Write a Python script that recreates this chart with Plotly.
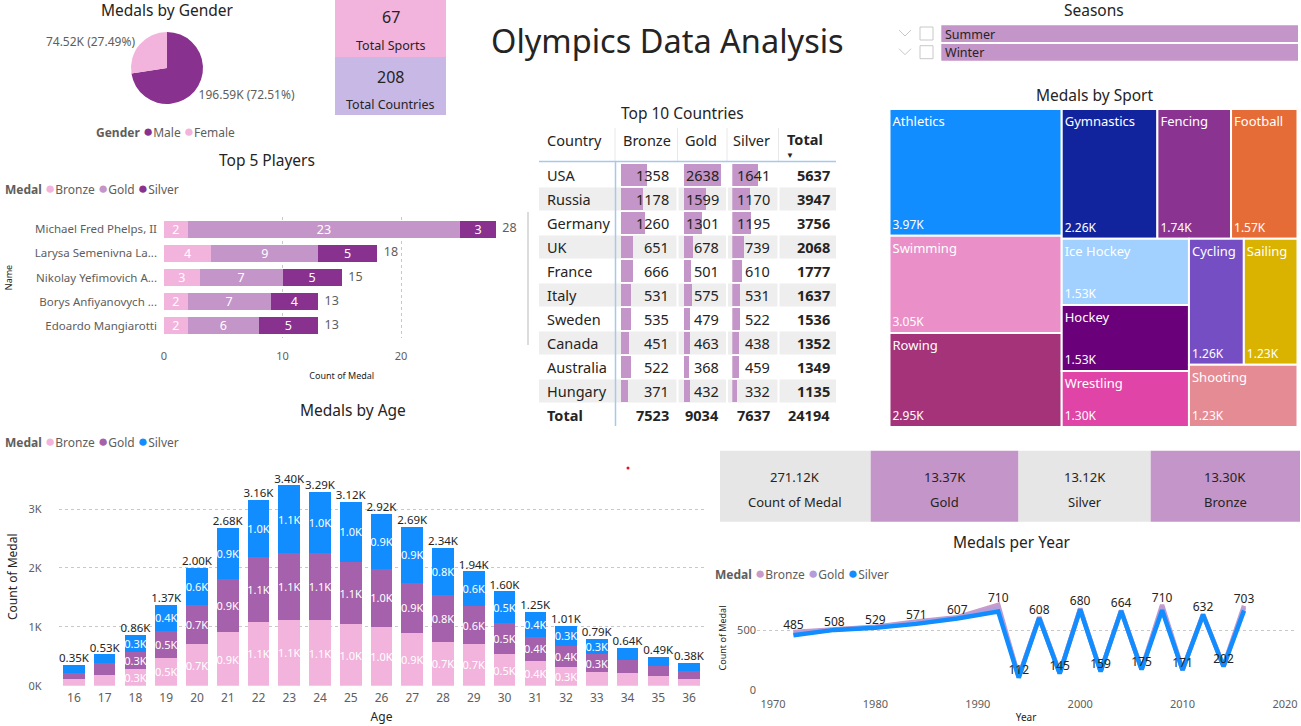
import plotly.graph_objects as go

W, H = 1301, 726


def fx(p):
    return p / W


def fy(p):
    return 1 - p / H


FONT = "Noto Sans"
DARK = "#252423"
GRAY = "#605E5C"
PINK = "#F2B3DC"
LILAC = "#C495C8"
PLUM = "#88318F"
BLUE = "#118DFF"
AGE_GOLD = "#A561AB"
LAV = "#C8B8E6"
YR_BRONZE = "#C89BCB"
YR_GOLD = "#B39DDB"

# ---------------- data ----------------
gender_labels = ["Male", "Female"]
gender_values = [196590, 74520]

total_sports = 67
total_countries = 208

player_names = ["Michael Fred Phelps, II", "Larysa Semenivna La...", "Nikolay Yefimovich A...",
                "Borys Anfiyanovych ...", "Edoardo Mangiarotti"]
player_bronze = [2, 4, 3, 2, 2]
player_gold = [23, 9, 7, 7, 6]
player_silver = [3, 5, 5, 4, 5]

countries = ["USA", "Russia", "Germany", "UK", "France", "Italy", "Sweden", "Canada", "Australia", "Hungary"]
country_bronze = [1358, 1178, 1260, 651, 666, 531, 535, 451, 522, 371]
country_gold = [2638, 1599, 1301, 678, 501, 575, 479, 463, 368, 432]
country_silver = [1641, 1170, 1195, 739, 610, 531, 522, 438, 459, 332]

sports = ["Athletics", "Swimming", "Rowing", "Gymnastics", "Fencing", "Football",
          "Ice Hockey", "Hockey", "Wrestling", "Cycling", "Sailing", "Shooting"]
sport_values = [3970, 3050, 2950, 2260, 1740, 1570, 1533, 1528, 1300, 1260, 1232, 1228]
sport_colors = ["#118DFF", "#EA8FC8", "#A43379", "#12239E", "#8A3391", "#E66C37",
                "#A2D1FF", "#6B007B", "#E044A7", "#744EC2", "#D9B300", "#E48B94"]

ages = ["16", "17", "18", "19", "20", "21", "22", "23", "24", "25", "26",
        "27", "28", "29", "30", "31", "32", "33", "34", "35", "36"]
age_bronze = [115, 175, 290, 475, 700, 905, 1080, 1120, 1110, 1040, 1000,
              890, 740, 710, 530, 425, 320, 240, 220, 160, 115]
age_gold = [105, 205, 280, 455, 665, 915, 1100, 1140, 1140, 1060, 980,
            860, 800, 640, 530, 405, 360, 290, 220, 170, 135]
age_silver = [130, 150, 290, 440, 635, 860, 980, 1140, 1040, 1020, 940,
              940, 800, 590, 540, 420, 330, 260, 200, 160, 130]

years = [1972, 1976, 1980, 1984, 1988, 1992, 1994, 1996, 1998, 2000, 2002,
         2004, 2006, 2008, 2010, 2012, 2014, 2016]
year_bronze = [485, 508, 529, 571, 607, 710, 112, 608, 145, 680, 159, 664, 175, 710, 171, 632, 202, 703]
year_gold = [470, 505, 524, 560, 602, 685, 110, 604, 143, 676, 158, 662, 174, 690, 170, 630, 200, 685]
year_silver = [458, 502, 520, 552, 596, 655, 105, 600, 140, 672, 156, 660, 172, 665, 168, 628, 198, 662]
year_ticks = [1970, 1980, 1990, 2000, 2010, 2020]

kpi_labels = ["Count of Medal", "Gold", "Silver", "Bronze"]
kpi_values = [271120, 13370, 13120, 13300]

seasons = ["Summer", "Winter"]


def kfmt(v, d=2):
    return f"{v / 1000:.{d}f}K"


fig = go.Figure()

# ---------------- pie ----------------
gtot = sum(gender_values)
gtext = [f"{kfmt(v)} ({v / gtot * 100:.2f}%)" for v in gender_values]
fig.add_trace(go.Pie(
    labels=gender_labels, values=gender_values, text=gtext, textinfo="text",
    textposition="outside", sort=False, direction="clockwise", rotation=0,
    marker=dict(colors=[PLUM, PINK], line=dict(color="white", width=0)),
    textfont=dict(family=FONT, size=12, color=GRAY),
    domain=dict(x=[fx(131), fx(203)], y=[fy(104), fy(32)]),
    showlegend=False, hoverinfo="label+value+percent",
))

# ---------------- top 5 players ----------------
for name, vals, col in [("Bronze", player_bronze, PINK), ("Gold", player_gold, LILAC),
                        ("Silver", player_silver, PLUM)]:
    fig.add_trace(go.Bar(
        name=name, x=vals, y=player_names, orientation="h", marker=dict(color=col, line=dict(width=0)),
        text=vals, textposition="inside", insidetextanchor="middle", constraintext="none", textangle=0,
        textfont=dict(family=FONT, size=12.5, color="white"), xaxis="x", yaxis="y",
        showlegend=False,
    ))
player_tot = [b + g + s for b, g, s in zip(player_bronze, player_gold, player_silver)]
fig.add_trace(go.Scatter(
    x=player_tot, y=player_names, mode="text", text=[f"  {v}" for v in player_tot],
    textposition="middle right",
    textfont=dict(family=FONT, size=12.5, color=GRAY), xaxis="x", yaxis="y",
    showlegend=False, hoverinfo="skip", cliponaxis=False,
))

# ---------------- medals by age ----------------
for name, vals, col in [("Bronze", age_bronze, PINK), ("Gold", age_gold, AGE_GOLD),
                        ("Silver", age_silver, BLUE)]:
    fig.add_trace(go.Bar(
        name=name, x=ages, y=vals, marker=dict(color=col, line=dict(width=0)),
        text=[kfmt(v, 1) if v >= 250 else "" for v in vals], textposition="inside",
        insidetextanchor="middle", constraintext="none", textangle=0,
        textfont=dict(family=FONT, size=11, color="white"), xaxis="x2", yaxis="y2",
        showlegend=False, cliponaxis=False,
    ))
age_tot = [b + g + s for b, g, s in zip(age_bronze, age_gold, age_silver)]
fig.add_trace(go.Scatter(
    x=ages, y=age_tot, mode="text", text=[kfmt(v) for v in age_tot], textposition="top center",
    textfont=dict(family=FONT, size=11.5, color=DARK), xaxis="x2", yaxis="y2",
    showlegend=False, hoverinfo="skip", cliponaxis=False,
))

# ---------------- medals per year ----------------
for name, vals, col in [("Bronze", year_bronze, YR_BRONZE), ("Gold", year_gold, YR_GOLD),
                        ("Silver", year_silver, BLUE)]:
    fig.add_trace(go.Scatter(
        name=name, x=years, y=vals, mode="lines", line=dict(color=col, width=4.5),
        xaxis="x3", yaxis="y3", showlegend=False, cliponaxis=False,
    ))
fig.add_trace(go.Scatter(
    x=years, y=year_bronze, mode="text", text=[str(v) for v in year_bronze], textposition="top center",
    textfont=dict(family=FONT, size=12, color=DARK), xaxis="x3", yaxis="y3",
    showlegend=False, hoverinfo="skip", cliponaxis=False,
))

# ---------------- top 10 countries table (data bars) ----------------
for vals, xa in [(country_bronze, "x4"), (country_gold, "x5"), (country_silver, "x6")]:
    fig.add_trace(go.Bar(
        x=vals, y=countries, orientation="h", marker=dict(color=LILAC, line=dict(width=0)),
        width=0.92, xaxis=xa, yaxis="y4", showlegend=False, hoverinfo="x+y",
    ))

# ---------------- treemap ----------------
tm_domain = dict(x=[fx(889.5), fx(1297.5)], y=[fy(427), fy(109)])
tiling = dict(packing="squarify", squarifyratio=1.618034, pad=0)
nopad = dict(t=0, l=0, r=0, b=0)
fig.add_trace(go.Treemap(
    labels=sports, parents=[""] * len(sports), values=sport_values,
    marker=dict(colors=sport_colors, line=dict(color="white", width=2), pad=nopad),
    texttemplate="%{label}", textposition="top left",
    textfont=dict(family=FONT, size=13, color="white"),
    tiling=tiling, pathbar=dict(visible=False),
    domain=tm_domain, sort=True, hoverinfo="label+value",
))
fig.add_trace(go.Treemap(
    labels=sports, parents=[""] * len(sports), values=sport_values,
    customdata=[kfmt(v) for v in sport_values],
    marker=dict(colors=["rgba(0,0,0,0)"] * len(sports), line=dict(color="rgba(0,0,0,0)", width=0),
                pad=nopad),
    texttemplate="%{customdata}", textposition="bottom left",
    textfont=dict(family=FONT, size=12, color="white"),
    tiling=tiling, pathbar=dict(visible=False),
    domain=tm_domain, sort=True, hoverinfo="skip",
))

# ---------------- layout ----------------
axfont = dict(family=FONT, size=11, color=GRAY)
grid = dict(showgrid=True, gridcolor="#C8C8C8", griddash="dot", gridwidth=1)

table_rows = countries + ["Total"]

layout = dict(
    width=W, height=H, margin=dict(l=0, r=0, t=0, b=0, autoexpand=False),
    paper_bgcolor="white", plot_bgcolor="white", barmode="stack", bargap=0.3,
    font=dict(family=FONT, color=DARK), showlegend=False,
    xaxis=dict(domain=[fx(164), fx(519.5)], range=[0, 30], tickvals=[0, 10, 20], tickfont=axfont,
               zeroline=False, ticks="", automargin=False, ticklabelstandoff=10, **grid,
               title=dict(text="Count of Medal", font=dict(family=FONT, size=9, color=DARK), standoff=10)),
    yaxis=dict(domain=[fy(338), fy(217)], type="category", categoryorder="array",
               categoryarray=player_names, range=[4.5, -0.5],
               tickfont=dict(family=FONT, size=11.5, color=GRAY), showgrid=False,
               ticks="", ticklabelstandoff=6, automargin=False,
               title=dict(text="Name", font=dict(family=FONT, size=9, color=DARK), standoff=20)),
    xaxis2=dict(domain=[fx(58.6), fx(704.4)], type="category", range=[-0.5, 20.5],
                tickfont=dict(family=FONT, size=12, color=GRAY),
                showgrid=False, ticks="", anchor="y2", automargin=False, ticklabelstandoff=3,
                title=dict(text="Age", font=dict(family=FONT, size=12, color=DARK), standoff=7)),
    yaxis2=dict(domain=[fy(685.7), fy(467.8)], range=[0, 3700], tickvals=[0, 1000, 2000, 3000],
                ticktext=["0K", "1K", "2K", "3K"], tickfont=axfont, zeroline=False, anchor="x2",
                automargin=False, ticklabelstandoff=16, **grid,
                title=dict(text="Count of Medal", font=dict(family=FONT, size=12, color=DARK), standoff=8)),
    xaxis3=dict(domain=[fx(757), fx(1295)], range=[1968.44, 2020.98], tickvals=year_ticks,
                tickfont=axfont, showgrid=False, zeroline=False, ticks="", anchor="y3",
                automargin=False, ticklabelstandoff=6,
                title=dict(text="Year", font=dict(family=FONT, size=10, color=DARK), standoff=3)),
    yaxis3=dict(domain=[fy(690.3), fy(585.6)], range=[0, 870], tickvals=[0, 500], tickfont=axfont,
                zeroline=False, anchor="x3", automargin=False, **grid,
                title=dict(text="Count of Medal", font=dict(family=FONT, size=9, color=DARK), standoff=8)),
    xaxis4=dict(domain=[fx(620.7), fx(676)], range=[0, 2895], visible=False, anchor="y4"),
    xaxis5=dict(domain=[fx(683.7), fx(726)], range=[0, 2990], visible=False, anchor="y4"),
    xaxis6=dict(domain=[fx(732.3), fx(778)], range=[0, 2967], visible=False, anchor="y4"),
    yaxis4=dict(domain=[fy(427), fy(163)], type="category", categoryorder="array",
                categoryarray=table_rows, range=[10.5, -0.5], visible=False, anchor="x4"),
)
fig.update_layout(**layout)

shapes = []
ann = []


def text(x, y, s, size=12, color=DARK, xanchor="center", yref="paper", yval=None, **kw):
    ann.append(dict(x=fx(x), y=(fy(y) if yval is None else yval), xref="paper", yref=yref, text=s,
                    showarrow=False, xanchor=xanchor, yanchor="middle",
                    font=dict(family=FONT, size=size, color=color), **kw))


def rect(x0, y0, x1, y1, fill, line=None, layer="below", yref="paper", raw_y=False):
    shapes.append(dict(type="rect", xref="paper", yref=yref, x0=fx(x0), x1=fx(x1),
                       y0=(y0 if raw_y else fy(y0)), y1=(y1 if raw_y else fy(y1)),
                       fillcolor=fill, line=dict(width=0) if line is None else line, layer=layer))


def vline(x, y0, y1, color, width=1, layer="below"):
    shapes.append(dict(type="line", xref="paper", yref="paper", x0=fx(x), x1=fx(x), y0=fy(y0), y1=fy(y1),
                       line=dict(color=color, width=width), layer=layer))


def legend(x, y, title, items, xanchor="left"):
    parts = [f"<b>{title}</b>"] + [
        f"<span style='color:{c};font-size:17px'>●</span>{n}" for n, c in items]
    text(x, y, " ".join(parts), size=12, color=GRAY, xanchor=xanchor)


# titles
text(667, 40, "Olympics Data Analysis", size=32.5, color=DARK)
text(167, 10, "Medals by Gender", size=15.5)
text(267, 160, "Top 5 Players", size=15.5)
text(353, 410, "Medals by Age", size=15.5)
text(682, 113, "Top 10 Countries", size=15.5)
text(1094, 10, "Seasons", size=15.5)
text(1094, 95, "Medals by Sport", size=15.5)
text(1012, 542, "Medals per Year", size=15.5)

# legends
legend(165, 130, "Gender", [(gender_labels[0], PLUM), (gender_labels[1], PINK)], xanchor="center")
legend(3, 188, "Medal", [("Bronze", PINK), ("Gold", LILAC), ("Silver", PLUM)])
legend(3, 440, "Medal", [("Bronze", PINK), ("Gold", AGE_GOLD), ("Silver", BLUE)])
legend(713, 572, "Medal", [("Bronze", YR_BRONZE), ("Gold", YR_GOLD), ("Silver", BLUE)])

# top cards
rect(335, 0, 446, 57, PINK)
rect(335, 57, 446, 115, LAV)
text(390.5, 17, str(total_sports), size=16)
text(390.5, 46, "Total Sports", size=12.5)
text(390.5, 77, str(total_countries), size=16)
text(390.5, 105, "Total Countries", size=12.5)

# KPI cards
card_x = [(720, 870.7), (870.7, 1018.5), (1018.5, 1150.7), (1150.7, 1300)]
card_fill = ["#E6E6E6", LILAC, "#E6E6E6", LILAC]
for (x0, x1), f, lab, v in zip(card_x, card_fill, kpi_labels, kpi_values):
    rect(x0, 450.7, x1, 521.7, f)
    text((x0 + x1) / 2, 477, kfmt(v), size=13)
    text((x0 + x1) / 2, 502, lab, size=13)

# seasons slicer
for i, s in enumerate(seasons):
    dy = i * 18.7
    shapes.append(dict(type="path", xref="paper", yref="paper",
                       path=f"M {fx(899)} {fy(30 + dy)} L {fx(905)} {fy(36 + dy)} L {fx(911)} {fy(30 + dy)}",
                       line=dict(color="#C8C8C8", width=1)))
    rect(920, 27 + dy, 933, 40 + dy, "white", line=dict(color="#C8C8C8", width=1))
    rect(941.3, 25.3 + dy, 1298, 42 + dy, LILAC)
    text(943, 34 + dy, s, size=12.5, xanchor="left")

# table
for i in range(1, len(countries), 2):
    rect(539, i - 0.48, 836, i + 0.48, "#EEEEEE", yref="y4", raw_y=True)
for x in (677.5, 727, 778.5):
    vline(x, 163, 427, "white", 2)
    vline(x, 128, 161, "#E8E8E8", 1)
vline(615, 128, 161, "#E8E8E8", 1)
vline(615.5, 162, 426, "#A6C8EC", 1.5, layer="above")
shapes.append(dict(type="line", xref="paper", yref="paper", x0=fx(539), x1=fx(836), y0=fy(161.5), y1=fy(161.5),
                   line=dict(color="#A6C8EC", width=1.5), layer="above"))
TS = 14.5
text(545, 140, "Country", size=TS, color=DARK, xanchor="left")
text(621, 140, "Bronze", size=TS, color=DARK, xanchor="left")
text(683, 140, "Gold", size=TS, color=DARK, xanchor="left")
text(731, 140, "Silver", size=TS, color=DARK, xanchor="left")
text(785, 139, "<b>Total</b>", size=TS, color=DARK, xanchor="left")
text(790, 154.5, "▼", size=8, color=DARK)

row_tot = [b + g + s for b, g, s in zip(country_bronze, country_gold, country_silver)]
for c, b, g, s, t in zip(countries, country_bronze, country_gold, country_silver, row_tot):
    text(545, 0, c, size=TS, xanchor="left", yref="y4", yval=c)
    text(671, 0, str(b), size=TS, xanchor="right", yref="y4", yval=c)
    text(720.5, 0, str(g), size=TS, xanchor="right", yref="y4", yval=c)
    text(771.5, 0, str(s), size=TS, xanchor="right", yref="y4", yval=c)
    text(831.5, 0, f"<b>{t}</b>", size=TS, xanchor="right", yref="y4", yval=c)
text(545, 0, "<b>Total</b>", size=TS, xanchor="left", yref="y4", yval="Total")
text(671, 0, f"<b>{sum(country_bronze)}</b>", size=TS, xanchor="right", yref="y4", yval="Total")
text(720.5, 0, f"<b>{sum(country_gold)}</b>", size=TS, xanchor="right", yref="y4", yval="Total")
text(771.5, 0, f"<b>{sum(country_silver)}</b>", size=TS, xanchor="right", yref="y4", yval="Total")
text(831.5, 0, f"<b>{sum(row_tot)}</b>", size=TS, xanchor="right", yref="y4", yval="Total")

# scrollbar remnant and red dot
vline(528, 212, 345, "#D0D0D0", 1.5)
shapes.append(dict(type="circle", xref="paper", yref="paper", x0=fx(626.5), x1=fx(629.5),
                   y0=fy(466.5), y1=fy(469.5), fillcolor="#E81123", line=dict(width=0)))

fig.update_layout(shapes=shapes, annotations=ann)

fig.write_html("out.html", config={"displayModeBar": False},
               post_script="document.body.style.margin='0';document.body.style.overflow='hidden';")
